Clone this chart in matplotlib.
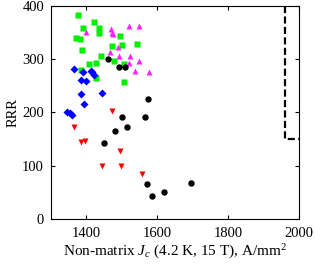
import matplotlib
matplotlib.use("Agg")
import matplotlib.pyplot as plt

plt.rcParams['font.family'] = ['Liberation Serif', 'DejaVu Serif']
plt.rcParams['mathtext.fontset'] = 'custom'
plt.rcParams['mathtext.rm'] = 'Liberation Serif'
plt.rcParams['mathtext.it'] = 'Liberation Serif:italic'

green_jc = [1377, 1422, 1390, 1435, 1435, 1371, 1383, 1496, 1473, 1499, 1544, 1388, 1442, 1479, 1408, 1427, 1506, 1385, 1428, 1506]
green_rrr = [382, 370, 359, 358, 349, 339, 338, 343, 325, 327, 328, 318, 305, 296, 291, 292, 290, 279, 265, 258]

magenta_jc = [1521, 1547, 1469, 1400, 1472, 1476, 1489, 1467, 1493, 1524, 1547, 1521, 1537, 1578]
magenta_rrr = [363, 362, 357, 351, 349, 347, 322, 314, 305, 305, 297, 292, 277, 275]

blue_jc = [1365, 1391, 1412, 1417, 1422, 1385, 1400, 1385, 1444, 1392, 1346, 1354, 1360]
blue_rrr = [282, 275, 278, 275, 270, 260, 259, 235, 237, 215, 201, 198, 195]

red_jc = [1472, 1365, 1384, 1395, 1494, 1443, 1498, 1556]
red_rrr = [202, 172, 145, 146, 128, 99, 100, 84]

black_jc = [1461, 1493, 1510, 1573, 1500, 1565, 1482, 1514, 1449, 1570, 1585, 1620, 1696]
black_rrr = [300, 285, 285, 226, 192, 192, 165, 173, 143, 65, 44, 50, 68]

limit_jc = [1960, 1960, 2000]
limit_rrr = [400, 150, 150]

fig = plt.figure(figsize=(3.15, 2.67), dpi=100)
ax = fig.add_axes([0.162, 0.180, 0.787, 0.798])

ax.plot(green_jc, green_rrr, 's', color='#00ee00', ms=4.3, mec='none')
ax.plot(magenta_jc, magenta_rrr, '^', color='#ff22ff', ms=5, mec='none')
ax.plot(blue_jc, blue_rrr, 'D', color='#0000ff', ms=3.8, mec='none')
ax.plot(red_jc, red_rrr, 'v', color='#ff0000', ms=5, mec='none')
ax.plot(black_jc, black_rrr, 'o', color='black', ms=4.6, mec='none')
ax.plot(limit_jc, limit_rrr, '--', color='black', lw=1.6, dashes=(3.2, 1.5))

ax.set_xlim(1300, 2000)
ax.set_ylim(0, 400)
ax.set_xticks([1400, 1600, 1800, 2000])
ax.set_yticks([0, 100, 200, 300, 400])
ax.tick_params(direction='in', top=True, right=True, labelsize=10.5, length=3, width=0.8, pad=6)
ax.tick_params(axis='y', pad=5)
for s in ax.spines.values():
    s.set_linewidth(0.8)
ax.set_xlabel('Non-matrix $J_c$ (4.2 K, 15 T), A/mm$^2$', fontsize=11, labelpad=2)
ax.set_ylabel('RRR', fontsize=10.5, labelpad=2)

fig.savefig('out.png', dpi=100)
